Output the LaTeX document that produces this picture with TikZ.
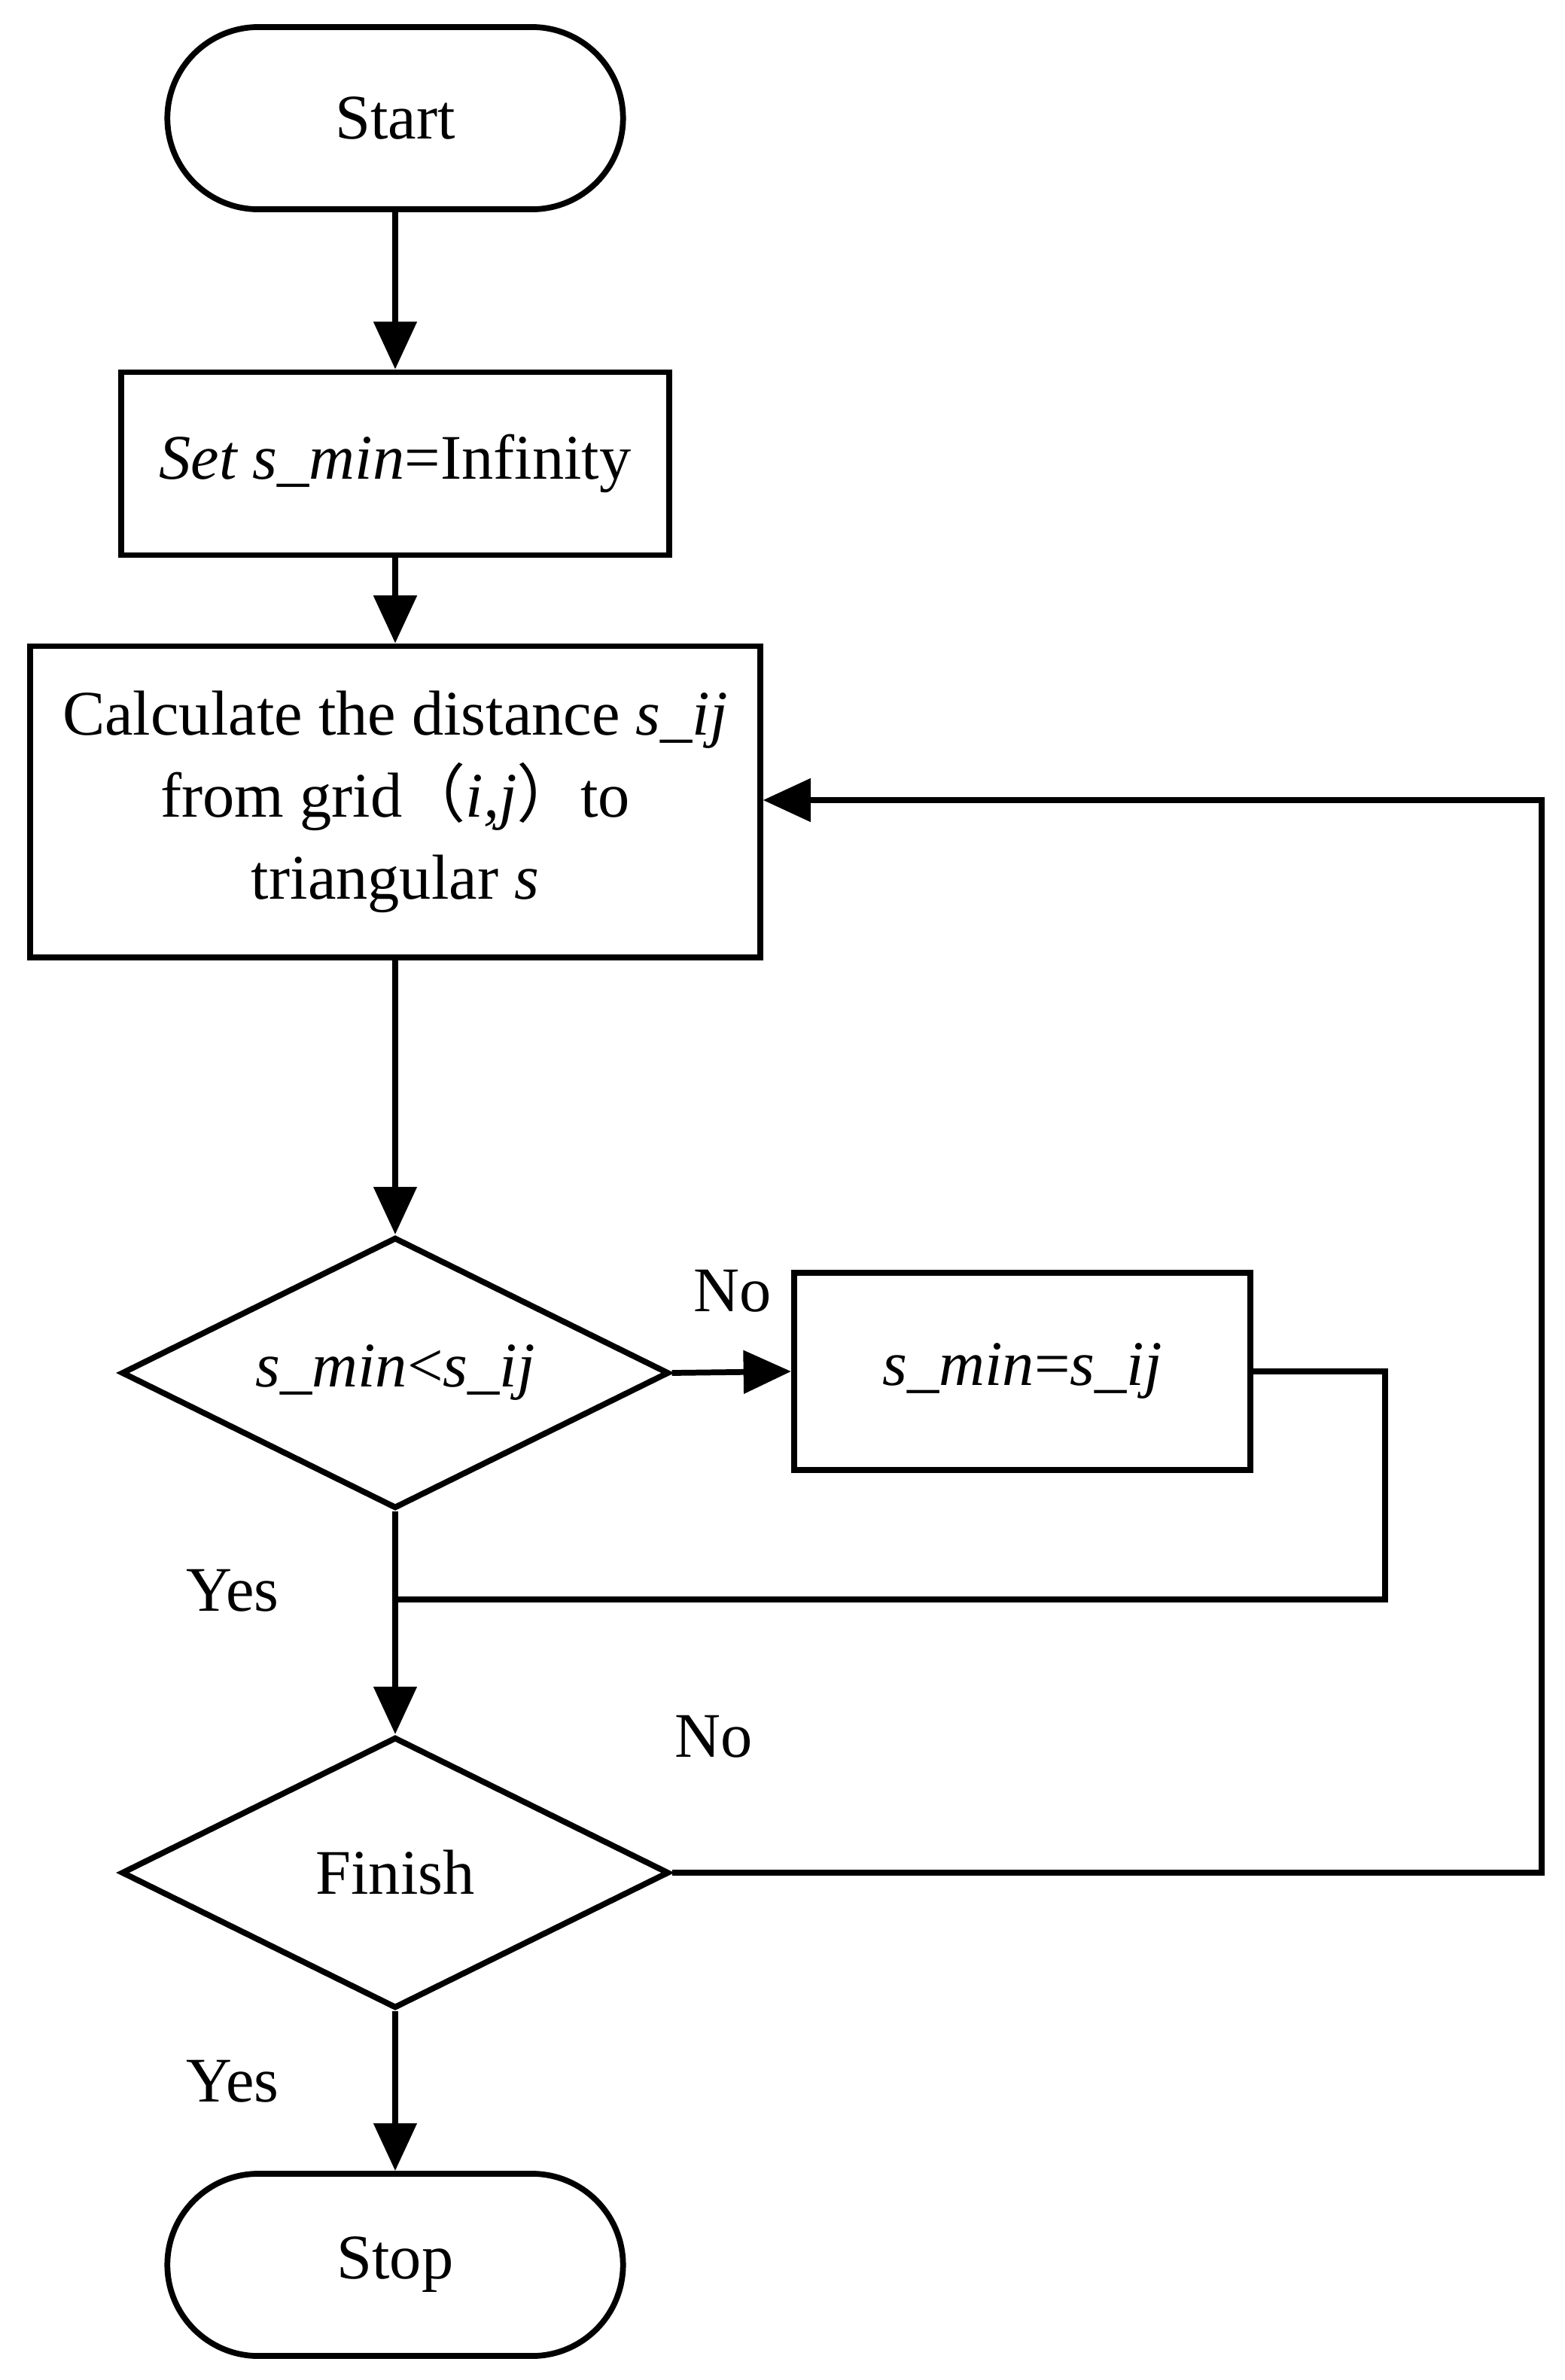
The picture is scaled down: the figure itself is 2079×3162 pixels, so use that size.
\documentclass[tikz,border=0pt]{standalone}
\usepackage{fontspec}
\setmainfont{Liberation Serif}
\newfontfamily\cjk{Noto Sans CJK SC}
\usetikzlibrary{shapes.geometric,shapes.misc,arrows.meta}
\begin{document}
\begin{tikzpicture}[x=0.01cm,y=-0.01cm,line width=2.2pt,
  every node/.style={font=\fontsize{24}{31}\selectfont},
  box/.style={draw,rectangle,inner sep=0pt},
  term/.style={draw,rounded rectangle,minimum width=6.05cm,minimum height=2.42cm,inner sep=0pt},
  dec/.style={draw,diamond,aspect=2.02,minimum width=7.27cm,minimum height=3.6cm,inner sep=0pt},
  arr/.style={-{Triangle[length=18pt,width=16pt]}}]
\useasboundingbox (0,0) rectangle (2079,3162);
\node[term] (start) at (525,157) {Start};
\node[box,minimum width=7.27cm,minimum height=2.43cm] (set) at (525,616) {\textit{Set s\_min}=Infinity};
\node[box,minimum width=9.69cm,minimum height=4.13cm,align=center] (calc) at (525,1065) {Calculate the distance \textit{s\_ij}\\from grid{\cjk（}\textit{i,j}{\cjk）}to\\triangular \textit{s}};
\node[dec] (d1) at (525,1824) {\textit{s\_min}<\textit{s\_ij}};
\node[box,minimum width=6.06cm,minimum height=2.62cm] (upd) at (1358,1822) {\textit{s\_min}=\textit{s\_ij}};
\node[dec] (d2) at (525,2488) {Finish};
\node[term] (stop) at (525,3009) {Stop};
\coordinate (m) at (525,2125);
\coordinate (r1) at (1840,1822);
\coordinate (r2) at (1840,2125);
\coordinate (r3) at (2048,2488);
\coordinate (r4) at (2048,1063);
\draw[arr] (start.south) -- (set.north);
\draw[arr] (set.south) -- (calc.north);
\draw[arr] (calc.south) -- (d1.north);
\draw[arr] (d1.east) -- (upd.west);
\draw (upd.east) -- (r1) -- (r2) -- (m);
\draw[arr] (d1.south) -- (d2.north);
\draw[arr] (d2.east) -- (r3) -- (r4) -- (calc.east |- r4);
\draw[arr] (d2.south) -- (stop.north);
\node at (973,1715) {No};
\node at (309,2113) {Yes};
\node at (948,2307) {No};
\node at (309,2765) {Yes};
\end{tikzpicture}
\end{document}
